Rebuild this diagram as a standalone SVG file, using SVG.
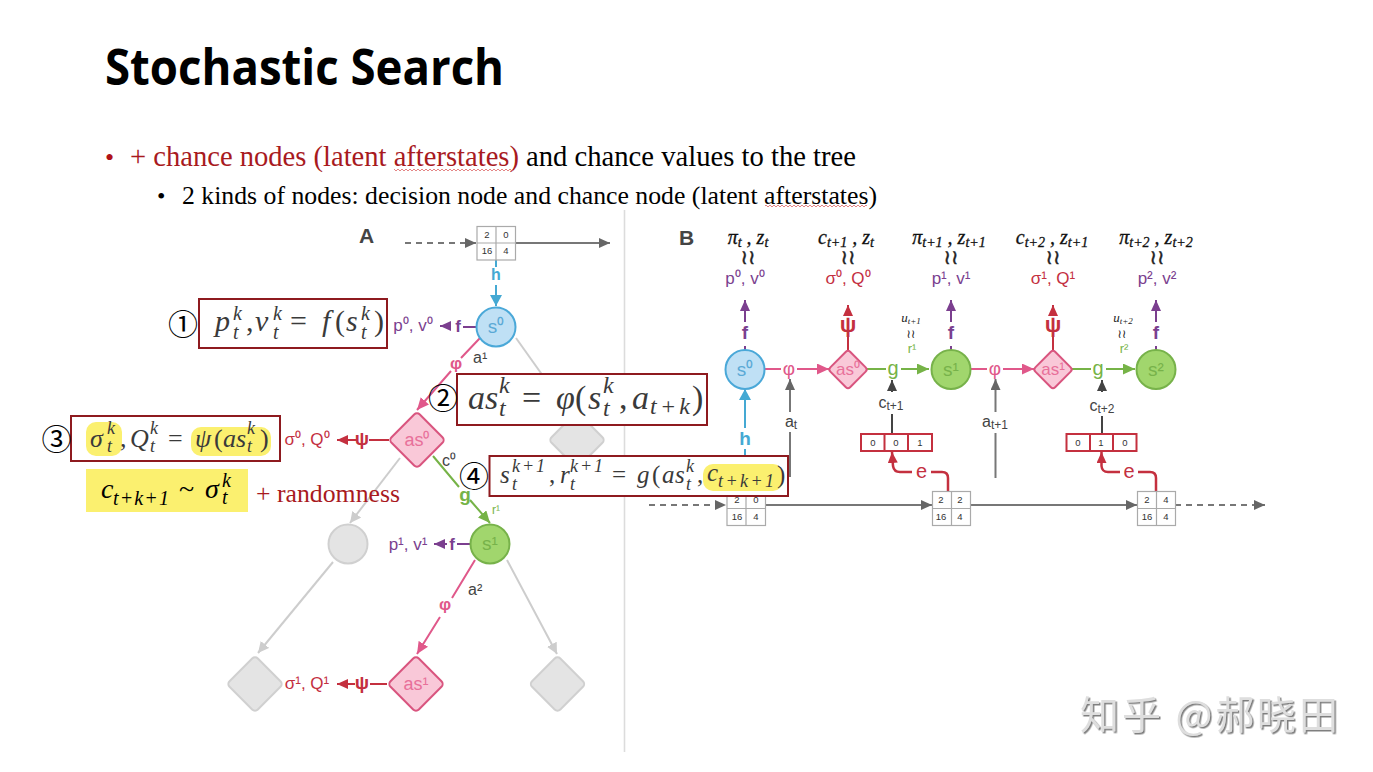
<svg xmlns="http://www.w3.org/2000/svg" width="1373" height="772" viewBox="0 0 1373 772">
<style>
text{font-family:"Liberation Sans",Arial,sans-serif}
.ser{font-family:"Liberation Serif","Times New Roman",serif}
.m{font-family:"Liberation Serif","Times New Roman",serif;font-style:italic;fill:#3a3a3a}
.n{font-style:normal}
.c{text-anchor:middle}
.bl{fill:#45a9d3;font-weight:bold}
.pu{fill:#7b3f8f}.pi{fill:#e0588a}.re{fill:#c4303f}.gr{fill:#76b347}.dk{fill:#444}
.op{font-weight:bold}
.conn{fill:none;stroke-width:2}
.s-gray{stroke:#777}.s-blue{stroke:#45a9d3}.s-pur{stroke:#7b3f8f}.s-pink{stroke:#e0588a}.s-red{stroke:#c4303f}.s-green{stroke:#76b347}.s-dk{stroke:#444}.s-lt{stroke:#cdcdcd}
.dash{stroke-dasharray:6 5}
.blue{fill:#bfe0f5;stroke:#4aa8d8;stroke-width:2}
.pink{fill:#f9c8d8;stroke:#d9557f;stroke-width:2}
.green{fill:#a1d66d;stroke:#77b24a;stroke-width:2}
.grey{fill:#e4e4e4;stroke:#d0d0d0;stroke-width:2}
.cell{fill:#fff;stroke:#aaa;stroke-width:1.2}
.hot{fill:#fff;stroke:#c4303f;stroke-width:2}
.num{font-size:9.5px;fill:#333;text-anchor:middle}
.lb{font-size:17px;text-anchor:middle}
.box{fill:#fff;stroke:#8e1a1f;stroke-width:2}
.hl{fill:#fbf06f}
.circ{font-family:"Noto Sans CJK SC",sans-serif;font-size:30px;fill:#000;text-anchor:middle}
.top{font-family:"Liberation Serif",serif;font-style:italic;font-size:20px;fill:#111;stroke:#111;stroke-width:.3;text-anchor:middle}
.wv{font-family:"DejaVu Sans",sans-serif;font-size:20px;fill:#222;stroke:#222;stroke-width:.4;text-anchor:middle}
.wvs{font-family:"DejaVu Sans",sans-serif;font-size:12px;fill:#222;text-anchor:middle}
.sm{font-family:"Liberation Serif",serif;font-style:italic;font-size:13px;fill:#222;text-anchor:middle}
</style>
<defs>
<marker id="aGray" markerUnits="userSpaceOnUse" markerWidth="12" markerHeight="10" refX="11" refY="5" orient="auto"><path d="M0 0L11 5L0 10z" fill="#666"/></marker>
<marker id="aBlue" markerUnits="userSpaceOnUse" markerWidth="12" markerHeight="12" refX="11" refY="6" orient="auto"><path d="M0 0L11 6L0 12z" fill="#45a9d3"/></marker>
<marker id="aPur" markerUnits="userSpaceOnUse" markerWidth="12" markerHeight="12" refX="11" refY="5" orient="auto"><path d="M0 0L11 5L0 10z" fill="#7b3f8f"/></marker>
<marker id="aPink" markerUnits="userSpaceOnUse" markerWidth="13" markerHeight="12" refX="12" refY="5.500" orient="auto"><path d="M0 0L12 5.500L0 11z" fill="#e0588a"/></marker>
<marker id="aRed" markerUnits="userSpaceOnUse" markerWidth="12" markerHeight="12" refX="11" refY="5" orient="auto"><path d="M0 0L11 5L0 10z" fill="#c4303f"/></marker>
<marker id="aGreen" markerUnits="userSpaceOnUse" markerWidth="13" markerHeight="12" refX="12" refY="5.500" orient="auto"><path d="M0 0L12 5.500L0 11z" fill="#76b347"/></marker>
<marker id="aDk" markerUnits="userSpaceOnUse" markerWidth="12" markerHeight="10" refX="11" refY="5" orient="auto"><path d="M0 0L11 5L0 10z" fill="#444"/></marker>
<marker id="aLt" markerUnits="userSpaceOnUse" markerWidth="12" markerHeight="12" refX="11" refY="5.500" orient="auto"><path d="M0 0L11 5.500L0 11z" fill="#cdcdcd"/></marker>
<pattern id="wavy" width="4" height="4" patternUnits="userSpaceOnUse"><path d="M0 3L2 1L4 3" fill="none" stroke="#d66" stroke-width=".8"/></pattern>
<filter id="emboss" x="-5%" y="-10%" width="110%" height="125%"><feDropShadow dx="1.500" dy="1.500" stdDeviation=".3" flood-color="#7f7f7f"/></filter>
</defs>
<rect width="1373" height="772" fill="#fff"/>

<g id="slide-text">
<text x="105" y="85" font-size="50" font-weight="bold" textLength="399" lengthAdjust="spacingAndGlyphs" style="font-family:'Open Sans','Noto Sans',sans-serif" fill="#000">Stochastic Search</text>
<text x="105" y="166" font-size="26" fill="#b01218" class="ser">•</text>
<text x="130" y="166" font-size="28.500" fill="#a81a1e" class="ser" textLength="389" lengthAdjust="spacingAndGlyphs">+ chance nodes (latent afterstates)</text>
<text x="526" y="166" font-size="28.500" fill="#000" class="ser" textLength="330" lengthAdjust="spacingAndGlyphs">and chance values to the tree</text>
<rect x="394" y="169" width="119" height="4" fill="url(#wavy)"/>
<text x="157" y="204" font-size="24" fill="#000" class="ser">•</text>
<text x="182" y="204" font-size="26" fill="#000" class="ser" textLength="695" lengthAdjust="spacingAndGlyphs">2 kinds of nodes: decision node and chance node (latent afterstates)</text>
<rect x="765" y="205" width="102" height="4" fill="url(#wavy)"/>
<path d="M624.500 210V752" stroke="#dcdcdc" stroke-width="1.600" fill="none"/>
<text x="359" y="243" font-size="21" font-weight="bold" fill="#444">A</text>
<text x="679" y="245" font-size="21" font-weight="bold" fill="#444">B</text>
</g>

<g id="connectors" class="conn">
<path class="s-gray dash" d="M405 243H476" marker-end="url(#aGray)"/>
<path class="s-gray" d="M516 243H610" marker-end="url(#aGray)"/>
<path class="s-blue" d="M496 260V267M496 285V306" marker-end="url(#aBlue)"/>
<path class="s-pur" d="M476 327H463M449 326H440" marker-end="url(#aPur)"/>
<path class="s-pink" d="M480 338L461 358M451 371L417 410" marker-end="url(#aPink)"/>
<path class="s-lt" d="M516 338L548 383"/>
<path class="s-red" d="M389 440H369M357 440H337" marker-end="url(#aRed)"/>
<path class="s-lt" d="M400 458L350 523" marker-end="url(#aLt)"/>
<path class="s-green" d="M433 456L459 487M470 500L490 523" marker-end="url(#aGreen)"/>
<path class="s-pur" d="M470 544H457M447 544H434" marker-end="url(#aPur)"/>
<path class="s-pink" d="M475 560L452 598M440 617L417 654" marker-end="url(#aPink)"/>
<path class="s-lt" d="M333 562L258 653" marker-end="url(#aLt)"/>
<path class="s-lt" d="M507 560L557 654" marker-end="url(#aLt)"/>
<path class="s-red" d="M387 684H370M355 684H337" marker-end="url(#aRed)"/>

<path class="s-gray dash" d="M649 505H726" marker-end="url(#aGray)"/>
<path class="s-gray" d="M765 505H932" marker-end="url(#aGray)"/>
<path class="s-gray" d="M970 505H1137" marker-end="url(#aGray)"/>
<path class="s-gray dash" d="M1175 505H1265" marker-end="url(#aGray)"/>
<path class="s-blue" d="M745 456V449M745 428V389" marker-end="url(#aBlue)"/>
<path class="s-pur" d="M745 350V346M745 322V300" marker-end="url(#aPur)"/>
<path class="s-red" d="M848 350V337M848 316V305" marker-end="url(#aRed)"/>
<path class="s-pur" d="M951 350V346M951 322V300" marker-end="url(#aPur)"/>
<path class="s-red" d="M1053 350V337M1053 316V305" marker-end="url(#aRed)"/>
<path class="s-pur" d="M1156 350V346M1156 322V300" marker-end="url(#aPur)"/>
<path class="s-pink" d="M765 369H781M797 369H829" marker-end="url(#aPink)"/>
<path class="s-green" d="M867 369H886M901 369H929" marker-end="url(#aGreen)"/>
<path class="s-pink" d="M971 369H987M1003 369H1034" marker-end="url(#aPink)"/>
<path class="s-green" d="M1072 369H1091M1106 369H1135" marker-end="url(#aGreen)"/>
<path class="s-gray" d="M790 412V379" marker-end="url(#aGray)"/>
<path class="s-gray" d="M790 432V477"/>
<path class="s-gray" d="M995.500 412V379" marker-end="url(#aGray)"/>
<path class="s-gray" d="M995.500 433V478"/>
<path class="s-dk" d="M892 392V380" marker-end="url(#aDk)"/>
<path class="s-dk" d="M892 414V434"/>
<path class="s-dk" d="M1102 392V380" marker-end="url(#aDk)"/>
<path class="s-dk" d="M1102 416V434"/>
<path class="s-red" style="stroke-width:2.500" d="M948 491V478Q948 472 942 472H931M912 472H900Q894 472 893 466L892 452" marker-end="url(#aRed)"/>
<path class="s-red" style="stroke-width:2.500" d="M1156 491V478Q1156 472 1150 472H1138M1120 472H1108Q1102 472 1101.500 466L1101.500 452" marker-end="url(#aRed)"/>
</g>

<g id="connector-labels">
<text x="496" y="280" class="c bl" font-size="16">h</text>
<text x="458" y="332" class="c pu op" font-size="17">f</text>
<text x="456" y="369" class="c pi op" font-size="17">φ</text>
<text x="473" y="363" class="dk" font-size="16">a¹</text>
<text x="362" y="445" class="c re op" font-size="19">ψ</text>
<text x="442" y="466" class="dk" font-size="16">c⁰</text>
<text x="465" y="501" class="c gr op" font-size="19">g</text>
<text x="496" y="514" class="c gr" font-size="12">r¹</text>
<text x="452" y="550" class="c pu op" font-size="17">f</text>
<text x="445" y="610" class="c pi op" font-size="17">φ</text>
<text x="468" y="595" class="dk" font-size="16">a²</text>
<text x="362" y="689" class="c re op" font-size="19">ψ</text>
<text x="745" y="445" class="c bl" font-size="19">h</text>
<text x="745" y="339" class="c pu op" font-size="19">f</text>
<text x="848" y="332" class="c re op" font-size="22">ψ</text>
<text x="951" y="339" class="c pu op" font-size="19">f</text>
<text x="1053" y="332" class="c re op" font-size="22">ψ</text>
<text x="1156" y="339" class="c pu op" font-size="19">f</text>
<text x="789" y="375" class="c pi" font-size="19">φ</text>
<text x="893" y="375" class="c gr" font-size="20">g</text>
<text x="995" y="375" class="c pi" font-size="19">φ</text>
<text x="1098" y="375" class="c gr" font-size="20">g</text>
<text x="791" y="427" class="c dk" font-size="16">a<tspan font-size="12" dy="2">t</tspan></text>
<text x="995" y="427" class="c dk" font-size="16">a<tspan font-size="12" dy="2">t+1</tspan></text>
<text x="891" y="408" class="c dk" font-size="16">c<tspan font-size="12" dy="2">t+1</tspan></text>
<text x="1102" y="411" class="c dk" font-size="16">c<tspan font-size="12" dy="2">t+2</tspan></text>
<text x="921.500" y="478" class="c re" font-size="20">e</text>
<text x="1129" y="478" class="c re" font-size="20">e</text>
<text x="413" y="331" class="lb pu">p⁰, v⁰</text>
<text x="307" y="445" class="lb re">σ⁰, Q⁰</text>
<text x="408" y="550" class="lb pu">p¹, v¹</text>
<text x="307" y="689" class="lb re">σ¹, Q¹</text>
</g>

<g id="outputs">
<text x="748" y="244" class="top">π<tspan font-size="14" dy="3">t</tspan><tspan dy="-3"> , z</tspan><tspan font-size="14" dy="3">t</tspan></text>
<text x="846" y="244" class="top">c<tspan font-size="14" dy="3">t+1</tspan><tspan dy="-3"> , z</tspan><tspan font-size="14" dy="3">t</tspan></text>
<text x="949" y="244" class="top">π<tspan font-size="14" dy="3">t+1</tspan><tspan dy="-3"> , z</tspan><tspan font-size="14" dy="3">t+1</tspan></text>
<text x="1052" y="244" class="top">c<tspan font-size="14" dy="3">t+2</tspan><tspan dy="-3"> , z</tspan><tspan font-size="14" dy="3">t+1</tspan></text>
<text x="1156" y="244" class="top">π<tspan font-size="14" dy="3">t+2</tspan><tspan dy="-3"> , z</tspan><tspan font-size="14" dy="3">t+2</tspan></text>
<text x="748" y="264" class="wv">≀≀</text>
<text x="848" y="264" class="wv">≀≀</text>
<text x="951" y="264" class="wv">≀≀</text>
<text x="1053" y="264" class="wv">≀≀</text>
<text x="1157" y="264" class="wv">≀≀</text>
<text x="745" y="284" class="lb pu">p⁰, v⁰</text>
<text x="848" y="284" class="lb re">σ⁰, Q⁰</text>
<text x="951" y="284" class="lb pu">p¹, v¹</text>
<text x="1053" y="284" class="lb re">σ¹, Q¹</text>
<text x="1157" y="284" class="lb pu">p², v²</text>
<text x="911" y="322" class="sm">u<tspan font-size="9" dy="2">t+1</tspan></text>
<text x="911" y="338" class="wvs">≀≀</text>
<text x="912" y="353" class="c gr" font-size="13">r¹</text>
<text x="1123" y="322" class="sm">u<tspan font-size="9" dy="2">t+2</tspan></text>
<text x="1122" y="338" class="wvs">≀≀</text>
<text x="1124" y="353" class="c gr" font-size="13">r²</text>
</g>

<g id="board-a"><rect class="cell" x="477" y="226.500" width="38.500" height="33.500"/><path class="cell" d="M496 226.500V260M477 243H515.500"/><text class="num" x="487" y="238">2</text><text class="num" x="506" y="238">0</text><text class="num" x="487" y="254">16</text><text class="num" x="506" y="254">4</text></g>
<g id="node-s0-a"><circle class="blue" cx="496" cy="327" r="19.500"/><text x="496" y="333" class="c" font-size="19" fill="#5aa9d6">s⁰</text></g>
<g id="node-as0-a"><rect class="pink" x="397" y="420" width="40" height="40" rx="4" transform="rotate(45 417 440)"/><text x="417" y="446" class="c" font-size="18" fill="#e8709a">as⁰</text></g>
<g id="node-grey-d1"><rect class="grey" x="557" y="420" width="40" height="40" rx="4" transform="rotate(45 577 440)"/></g>
<g id="node-s1-a"><circle class="green" cx="490" cy="544" r="19.500"/><text x="490" y="550" class="c" font-size="19" fill="#77b24a">s¹</text></g>
<g id="node-grey-c"><circle class="grey" cx="348" cy="544" r="19.500"/></g>
<g id="node-grey-d2"><rect class="grey" x="235" y="664" width="40" height="40" rx="4" transform="rotate(45 255 684)"/></g>
<g id="node-as1-a"><rect class="pink" x="396" y="664" width="40" height="40" rx="4" transform="rotate(45 416 684)"/><text x="416" y="690" class="c" font-size="18" fill="#e8709a">as¹</text></g>
<g id="node-grey-d3"><rect class="grey" x="537.500" y="664" width="40" height="40" rx="4" transform="rotate(45 557.500 684)"/></g>

<g id="node-s0-b"><circle class="blue" cx="745" cy="369.500" r="19.500"/><text x="745" y="376" class="c" font-size="19" fill="#5aa9d6">s⁰</text></g>
<g id="node-as0-b"><rect class="pink" x="834" y="355.500" width="28" height="28" rx="3" transform="rotate(45 848 369.500)"/><text x="848" y="375" class="c" font-size="17" fill="#e8709a">as⁰</text></g>
<g id="node-s1-b"><circle class="green" cx="951" cy="369.500" r="19.500"/><text x="951" y="376" class="c" font-size="19" fill="#77b24a">s¹</text></g>
<g id="node-as1-b"><rect class="pink" x="1039" y="355.500" width="28" height="28" rx="3" transform="rotate(45 1053 369.500)"/><text x="1053" y="375" class="c" font-size="17" fill="#e8709a">as¹</text></g>
<g id="node-s2-b"><circle class="green" cx="1156" cy="369.500" r="19.500"/><text x="1156" y="376" class="c" font-size="19" fill="#77b24a">s²</text></g>

<g id="hot-1"><rect class="hot" x="861" y="434" width="71" height="17"/><path class="hot" d="M884.500 434V451M908 434V451"/><text class="num" x="873" y="445.500">0</text><text class="num" x="896" y="445.500">0</text><text class="num" x="920" y="445.500">1</text></g>
<g id="hot-2"><rect class="hot" x="1066.500" y="434" width="70" height="17"/><path class="hot" d="M1090 434V451M1113 434V451"/><text class="num" x="1078" y="445.500">0</text><text class="num" x="1101" y="445.500">1</text><text class="num" x="1125" y="445.500">0</text></g>
<g id="board-b1"><rect class="cell" x="727" y="491.500" width="38.500" height="34"/><path class="cell" d="M746 491.500V525.500M727 508.500H765.500"/><text class="num" x="737" y="503">2</text><text class="num" x="756" y="503">0</text><text class="num" x="737" y="520">16</text><text class="num" x="756" y="520">4</text></g>
<g id="board-b2"><rect class="cell" x="932.500" y="491.500" width="38" height="34"/><path class="cell" d="M951.500 491.500V525.500M932.500 508.500H970.500"/><text class="num" x="941" y="503">2</text><text class="num" x="960" y="503">2</text><text class="num" x="941" y="520">16</text><text class="num" x="960" y="520">4</text></g>
<g id="board-b3"><rect class="cell" x="1137.500" y="491.500" width="38" height="34"/><path class="cell" d="M1156.500 491.500V525.500M1137.500 508.500H1175.500"/><text class="num" x="1147" y="503">2</text><text class="num" x="1166" y="503">4</text><text class="num" x="1147" y="520">16</text><text class="num" x="1166" y="520">4</text></g>

<g id="formula-1">
<rect class="box" x="199" y="299" width="188" height="49"/>
<text x="183" y="335" class="circ">①</text>
<text class="m" font-size="30"><tspan x="215" y="331">p</tspan><tspan x="233" y="320" font-size="20">k</tspan><tspan x="233" y="339" font-size="20">t</tspan><tspan x="246" y="331" class="n">,</tspan><tspan x="255" y="331">v</tspan><tspan x="273" y="320" font-size="20">k</tspan><tspan x="273" y="339" font-size="20">t</tspan><tspan x="290" y="331" class="n">=</tspan><tspan x="322" y="331">f</tspan><tspan x="335" y="331" class="n">(</tspan><tspan x="346" y="331">s</tspan><tspan x="361" y="320" font-size="20">k</tspan><tspan x="361" y="339" font-size="20">t</tspan><tspan x="374" y="331" class="n">)</tspan></text>
</g>

<g id="formula-2">
<rect class="box" x="457" y="374" width="250" height="51"/>
<text x="443" y="409" class="circ">②</text>
<text class="m" font-size="34"><tspan x="468" y="409">a</tspan><tspan x="485" y="409">s</tspan><tspan x="499" y="393" font-size="24">k</tspan><tspan x="499" y="416" font-size="24">t</tspan><tspan x="522" y="409" class="n">=</tspan><tspan x="556" y="409">φ</tspan><tspan x="575" y="409" class="n">(</tspan><tspan x="588" y="409">s</tspan><tspan x="603" y="393" font-size="24">k</tspan><tspan x="603" y="416" font-size="24">t</tspan><tspan x="619" y="409" class="n">,</tspan><tspan x="632" y="409">a</tspan><tspan x="650" y="414" font-size="24" textLength="40">t+k</tspan><tspan x="692" y="409" class="n">)</tspan></text>
</g>

<g id="formula-3">
<rect class="box" x="71" y="416" width="209" height="45"/>
<text x="56.500" y="450" class="circ">③</text>
<rect class="hl" x="86" y="422" width="36" height="34" rx="10"/>
<rect class="hl" x="191" y="427" width="80" height="29" rx="10"/>
<text class="m" font-size="26"><tspan x="90" y="447">σ</tspan><tspan x="107" y="434" font-size="18">k</tspan><tspan x="107" y="452" font-size="18">t</tspan><tspan x="120" y="447" class="n">,</tspan><tspan x="130" y="447">Q</tspan><tspan x="150" y="434" font-size="18">k</tspan><tspan x="150" y="452" font-size="18">t</tspan><tspan x="168" y="447" class="n">=</tspan><tspan x="195" y="447">ψ</tspan><tspan x="214" y="447" class="n">(</tspan><tspan x="223" y="447">a</tspan><tspan x="236" y="447">s</tspan><tspan x="247" y="434" font-size="18">k</tspan><tspan x="247" y="452" font-size="18">t</tspan><tspan x="260" y="447" class="n">)</tspan></text>
<rect class="hl" x="86" y="469" width="162" height="43"/>
<text class="m" font-size="28" style="fill:#000"><tspan x="101" y="498">c</tspan><tspan x="113" y="505" font-size="20" textLength="56">t+k+1</tspan><tspan x="179" y="498" class="n" font-size="28">~</tspan><tspan x="205" y="498">σ</tspan><tspan x="222" y="487" font-size="20">k</tspan><tspan x="222" y="504" font-size="20">t</tspan></text>
<text x="256" y="502" font-size="25" class="ser" fill="#a81a1e" textLength="144" lengthAdjust="spacingAndGlyphs">+ randomness</text>
</g>

<g id="formula-4">
<rect class="box" x="489.500" y="456" width="298.500" height="40"/>
<text x="474" y="487" class="circ">④</text>
<rect class="hl" x="703" y="464" width="80" height="27" rx="10"/>
<text class="m" font-size="25"><tspan x="500" y="483">s</tspan><tspan x="512" y="472" font-size="18" textLength="33">k+1</tspan><tspan x="512" y="490" font-size="18">t</tspan><tspan x="549" y="483" class="n">,</tspan><tspan x="560" y="483">r</tspan><tspan x="570" y="472" font-size="18" textLength="33">k+1</tspan><tspan x="570" y="490" font-size="18">t</tspan><tspan x="612" y="483" class="n">=</tspan><tspan x="637" y="483">g</tspan><tspan x="652" y="483" class="n">(</tspan><tspan x="662" y="483">a</tspan><tspan x="675" y="483">s</tspan><tspan x="686" y="472" font-size="18">k</tspan><tspan x="686" y="490" font-size="18">t</tspan><tspan x="697" y="483" class="n">,</tspan><tspan x="707" y="481">c</tspan><tspan x="718" y="487" font-size="18" textLength="56">t+k+1</tspan><tspan x="777" y="483" class="n">)</tspan></text>
</g>

<text x="1080" y="729" font-size="39" fill="#dedede" filter="url(#emboss)" textLength="258" style="font-family:'Noto Sans CJK SC',sans-serif">知乎 @郝晓田</text>
</svg>
